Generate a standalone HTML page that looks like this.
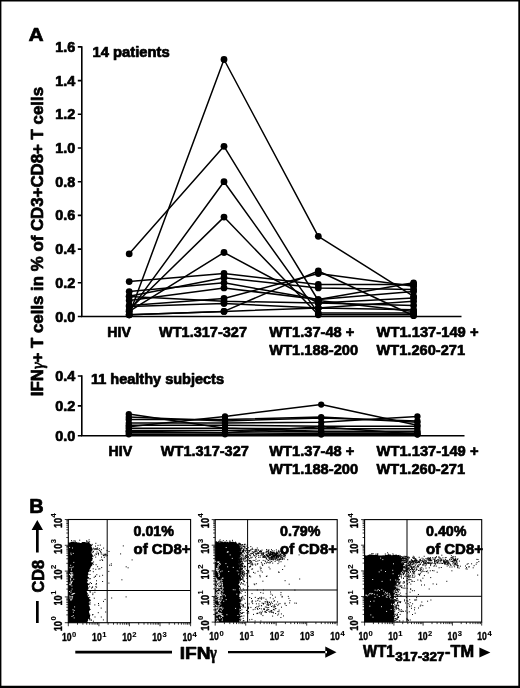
<!DOCTYPE html>
<html lang="en"><head><meta charset="utf-8"><title>Figure</title>
<style>html,body{margin:0;padding:0;background:#fff}body{width:520px;height:688px;overflow:hidden}text{stroke:#000;stroke-width:.7px;stroke-linejoin:round}.t text{stroke-width:.4px}.t text.s{stroke-width:.12px}</style>
</head><body>
<svg width="520" height="688" viewBox="0 0 520 688" style="display:block;font-family:'Liberation Sans', Arial, Helvetica, sans-serif;font-weight:bold" fill="#000">
<rect x="0" y="0" width="520" height="688" fill="#fff"/>
<path d="M0 0H520V688H0Z M1.4 1.4V685.8H518.3V1.4Z" fill="#000" fill-rule="evenodd"/>
<text x="28.6" y="40.6" font-size="19.2" textLength="15.2" lengthAdjust="spacingAndGlyphs">A</text>
<text x="29.3" y="512.6" font-size="20">B</text>
<text transform="translate(43.3 396.2) rotate(-90)" font-size="16.3" textLength="309.2" lengthAdjust="spacingAndGlyphs">IFN<tspan font-weight="normal" font-style="italic" font-family="'Liberation Serif',serif">γ</tspan>+ T cells in % of CD3+CD8+ T cells</text>
<g stroke="#000" stroke-width="1.6" fill="none">
<path d="M81.8 46.199999999999996V316.5H461.5"/>
<path d="M77.8 316.50H81.8M77.8 282.80H81.8M77.8 249.10H81.8M77.8 215.40H81.8M77.8 181.70H81.8M77.8 148.00H81.8M77.8 114.30H81.8M77.8 80.60H81.8M77.8 46.90H81.8"/>
<path d="M81.8 375.3V435.8H464.5"/>
<path d="M77.8 435.80H81.8M77.8 405.90H81.8M77.8 376.00H81.8"/>
</g>
<text x="75.3" y="321.5" font-size="14.2" text-anchor="end" textLength="20" lengthAdjust="spacingAndGlyphs">0.0</text>
<text x="75.3" y="287.8" font-size="14.2" text-anchor="end" textLength="20" lengthAdjust="spacingAndGlyphs">0.2</text>
<text x="75.3" y="254.1" font-size="14.2" text-anchor="end" textLength="20" lengthAdjust="spacingAndGlyphs">0.4</text>
<text x="75.3" y="220.4" font-size="14.2" text-anchor="end" textLength="20" lengthAdjust="spacingAndGlyphs">0.6</text>
<text x="75.3" y="186.7" font-size="14.2" text-anchor="end" textLength="20" lengthAdjust="spacingAndGlyphs">0.8</text>
<text x="75.3" y="153.0" font-size="14.2" text-anchor="end" textLength="20" lengthAdjust="spacingAndGlyphs">1.0</text>
<text x="75.3" y="119.3" font-size="14.2" text-anchor="end" textLength="20" lengthAdjust="spacingAndGlyphs">1.2</text>
<text x="75.3" y="85.6" font-size="14.2" text-anchor="end" textLength="20" lengthAdjust="spacingAndGlyphs">1.4</text>
<text x="75.3" y="51.9" font-size="14.2" text-anchor="end" textLength="20" lengthAdjust="spacingAndGlyphs">1.6</text>
<text x="75.3" y="440.8" font-size="14.2" text-anchor="end" textLength="20" lengthAdjust="spacingAndGlyphs">0.0</text>
<text x="75.3" y="410.9" font-size="14.2" text-anchor="end" textLength="20" lengthAdjust="spacingAndGlyphs">0.2</text>
<text x="75.3" y="381.0" font-size="14.2" text-anchor="end" textLength="20" lengthAdjust="spacingAndGlyphs">0.4</text>
<text x="92.6" y="57.0" font-size="14" textLength="77" lengthAdjust="spacingAndGlyphs">14 patients</text>
<text x="91" y="383.6" font-size="14" textLength="133" lengthAdjust="spacingAndGlyphs">11 healthy subjects</text>
<g stroke="#000" stroke-width="1.5" fill="none" stroke-linejoin="round">
<polyline points="129.2,314.8 224.0,59.5 318.3,236.3 413.6,296.3"/>
<polyline points="129.2,253.8 224.0,146.3 318.3,300.5 413.6,311.4"/>
<polyline points="129.2,311.4 224.0,181.7 318.3,313.1 413.6,313.1"/>
<polyline points="129.2,309.8 224.0,217.1 318.3,314.8 413.6,314.8"/>
<polyline points="129.2,311.4 224.0,252.5 318.3,303.0 413.6,305.5"/>
<polyline points="129.2,281.6 224.0,273.5 318.3,284.5 413.6,284.5"/>
<polyline points="129.2,296.3 224.0,277.7 318.3,287.9 413.6,289.5"/>
<polyline points="129.2,291.6 224.0,282.8 318.3,299.6 413.6,282.8"/>
<polyline points="129.2,314.8 224.0,311.4 318.3,271.0 413.6,315.7"/>
<polyline points="129.2,305.5 224.0,298.5 318.3,273.5 413.6,286.2"/>
<polyline points="129.2,306.4 224.0,303.5 318.3,308.1 413.6,301.3"/>
<polyline points="129.2,300.5 224.0,287.9 318.3,299.6 413.6,291.6"/>
<polyline points="129.2,314.8 224.0,311.4 318.3,308.1 413.6,309.8"/>
<polyline points="129.2,296.6 224.0,301.3 318.3,303.0 413.6,298.0"/>
<polyline points="128.8,414.1 225.0,428.3 321.2,431.3 417.4,431.3"/>
<polyline points="128.8,426.8 225.0,416.4 321.2,404.6 417.4,425.3"/>
<polyline points="128.8,419.4 225.0,419.4 321.2,417.1 417.4,422.3"/>
<polyline points="128.8,423.1 225.0,423.1 321.2,422.3 417.4,416.4"/>
<polyline points="128.8,425.3 225.0,425.3 321.2,426.2 417.4,426.2"/>
<polyline points="128.8,428.3 225.0,428.3 321.2,428.8 417.4,428.8"/>
<polyline points="128.8,430.6 225.0,430.6 321.2,432.1 417.4,432.1"/>
<polyline points="128.8,432.8 225.0,432.8 321.2,433.6 417.4,433.6"/>
<polyline points="128.8,434.3 225.0,434.3 321.2,434.6 417.4,434.6"/>
<polyline points="128.8,417.1 225.0,420.9 321.2,417.9 417.4,420.9"/>
<polyline points="128.8,431.3 225.0,432.8 321.2,426.8 417.4,434.3"/>
</g>
<circle cx="129.2" cy="314.8" r="3.4"/>
<circle cx="224.0" cy="59.5" r="3.4"/>
<circle cx="318.3" cy="236.3" r="3.4"/>
<circle cx="413.6" cy="296.3" r="3.4"/>
<circle cx="129.2" cy="253.8" r="3.4"/>
<circle cx="224.0" cy="146.3" r="3.4"/>
<circle cx="318.3" cy="300.5" r="3.4"/>
<circle cx="413.6" cy="311.4" r="3.4"/>
<circle cx="129.2" cy="311.4" r="3.4"/>
<circle cx="224.0" cy="181.7" r="3.4"/>
<circle cx="318.3" cy="313.1" r="3.4"/>
<circle cx="413.6" cy="313.1" r="3.4"/>
<circle cx="129.2" cy="309.8" r="3.4"/>
<circle cx="224.0" cy="217.1" r="3.4"/>
<circle cx="318.3" cy="314.8" r="3.4"/>
<circle cx="413.6" cy="314.8" r="3.4"/>
<circle cx="129.2" cy="311.4" r="3.4"/>
<circle cx="224.0" cy="252.5" r="3.4"/>
<circle cx="318.3" cy="303.0" r="3.4"/>
<circle cx="413.6" cy="305.5" r="3.4"/>
<circle cx="129.2" cy="281.6" r="3.4"/>
<circle cx="224.0" cy="273.5" r="3.4"/>
<circle cx="318.3" cy="284.5" r="3.4"/>
<circle cx="413.6" cy="284.5" r="3.4"/>
<circle cx="129.2" cy="296.3" r="3.4"/>
<circle cx="224.0" cy="277.7" r="3.4"/>
<circle cx="318.3" cy="287.9" r="3.4"/>
<circle cx="413.6" cy="289.5" r="3.4"/>
<circle cx="129.2" cy="291.6" r="3.4"/>
<circle cx="224.0" cy="282.8" r="3.4"/>
<circle cx="318.3" cy="299.6" r="3.4"/>
<circle cx="413.6" cy="282.8" r="3.4"/>
<circle cx="129.2" cy="314.8" r="3.4"/>
<circle cx="224.0" cy="311.4" r="3.4"/>
<circle cx="318.3" cy="271.0" r="3.4"/>
<circle cx="413.6" cy="315.7" r="3.4"/>
<circle cx="129.2" cy="305.5" r="3.4"/>
<circle cx="224.0" cy="298.5" r="3.4"/>
<circle cx="318.3" cy="273.5" r="3.4"/>
<circle cx="413.6" cy="286.2" r="3.4"/>
<circle cx="129.2" cy="306.4" r="3.4"/>
<circle cx="224.0" cy="303.5" r="3.4"/>
<circle cx="318.3" cy="308.1" r="3.4"/>
<circle cx="413.6" cy="301.3" r="3.4"/>
<circle cx="129.2" cy="300.5" r="3.4"/>
<circle cx="224.0" cy="287.9" r="3.4"/>
<circle cx="318.3" cy="299.6" r="3.4"/>
<circle cx="413.6" cy="291.6" r="3.4"/>
<circle cx="129.2" cy="314.8" r="3.4"/>
<circle cx="224.0" cy="311.4" r="3.4"/>
<circle cx="318.3" cy="308.1" r="3.4"/>
<circle cx="413.6" cy="309.8" r="3.4"/>
<circle cx="129.2" cy="296.6" r="3.4"/>
<circle cx="224.0" cy="301.3" r="3.4"/>
<circle cx="318.3" cy="303.0" r="3.4"/>
<circle cx="413.6" cy="298.0" r="3.4"/>
<circle cx="128.8" cy="414.1" r="3.15"/>
<circle cx="225.0" cy="428.3" r="3.15"/>
<circle cx="321.2" cy="431.3" r="3.15"/>
<circle cx="417.4" cy="431.3" r="3.15"/>
<circle cx="128.8" cy="426.8" r="3.15"/>
<circle cx="225.0" cy="416.4" r="3.15"/>
<circle cx="321.2" cy="404.6" r="3.15"/>
<circle cx="417.4" cy="425.3" r="3.15"/>
<circle cx="128.8" cy="419.4" r="3.15"/>
<circle cx="225.0" cy="419.4" r="3.15"/>
<circle cx="321.2" cy="417.1" r="3.15"/>
<circle cx="417.4" cy="422.3" r="3.15"/>
<circle cx="128.8" cy="423.1" r="3.15"/>
<circle cx="225.0" cy="423.1" r="3.15"/>
<circle cx="321.2" cy="422.3" r="3.15"/>
<circle cx="417.4" cy="416.4" r="3.15"/>
<circle cx="128.8" cy="425.3" r="3.15"/>
<circle cx="225.0" cy="425.3" r="3.15"/>
<circle cx="321.2" cy="426.2" r="3.15"/>
<circle cx="417.4" cy="426.2" r="3.15"/>
<circle cx="128.8" cy="428.3" r="3.15"/>
<circle cx="225.0" cy="428.3" r="3.15"/>
<circle cx="321.2" cy="428.8" r="3.15"/>
<circle cx="417.4" cy="428.8" r="3.15"/>
<circle cx="128.8" cy="430.6" r="3.15"/>
<circle cx="225.0" cy="430.6" r="3.15"/>
<circle cx="321.2" cy="432.1" r="3.15"/>
<circle cx="417.4" cy="432.1" r="3.15"/>
<circle cx="128.8" cy="432.8" r="3.15"/>
<circle cx="225.0" cy="432.8" r="3.15"/>
<circle cx="321.2" cy="433.6" r="3.15"/>
<circle cx="417.4" cy="433.6" r="3.15"/>
<circle cx="128.8" cy="434.3" r="3.15"/>
<circle cx="225.0" cy="434.3" r="3.15"/>
<circle cx="321.2" cy="434.6" r="3.15"/>
<circle cx="417.4" cy="434.6" r="3.15"/>
<circle cx="128.8" cy="417.1" r="3.15"/>
<circle cx="225.0" cy="420.9" r="3.15"/>
<circle cx="321.2" cy="417.9" r="3.15"/>
<circle cx="417.4" cy="420.9" r="3.15"/>
<circle cx="128.8" cy="431.3" r="3.15"/>
<circle cx="225.0" cy="432.8" r="3.15"/>
<circle cx="321.2" cy="426.8" r="3.15"/>
<circle cx="417.4" cy="434.3" r="3.15"/>
<g font-size="15.2">
<text x="107.3" y="336.8" textLength="23.6" lengthAdjust="spacingAndGlyphs">HIV</text>
<text x="159.0" y="336.8" textLength="88" lengthAdjust="spacingAndGlyphs">WT1.317-327</text>
<text x="269.3" y="336.8" textLength="85" lengthAdjust="spacingAndGlyphs">WT1.37-48 +</text>
<text x="269.3" y="354.6" textLength="88.8" lengthAdjust="spacingAndGlyphs">WT1.188-200</text>
<text x="376.5" y="336.8" textLength="102" lengthAdjust="spacingAndGlyphs">WT1.137-149 +</text>
<text x="376.5" y="354.6" textLength="88.5" lengthAdjust="spacingAndGlyphs">WT1.260-271</text>
</g>
<g font-size="15.2">
<text x="108.5" y="455.8" textLength="23.6" lengthAdjust="spacingAndGlyphs">HIV</text>
<text x="160.8" y="455.8" textLength="88" lengthAdjust="spacingAndGlyphs">WT1.317-327</text>
<text x="269.3" y="455.8" textLength="85" lengthAdjust="spacingAndGlyphs">WT1.37-48 +</text>
<text x="269.3" y="474.3" textLength="88.8" lengthAdjust="spacingAndGlyphs">WT1.188-200</text>
<text x="376.5" y="455.8" textLength="102" lengthAdjust="spacingAndGlyphs">WT1.137-149 +</text>
<text x="376.5" y="474.3" textLength="88.5" lengthAdjust="spacingAndGlyphs">WT1.260-271</text>
</g>
<rect x="68.3" y="519.5" width="122.3" height="103.20000000000005" fill="none" stroke="#000" stroke-width="1.1"/>
<path d="M107.2 519.5V622.7M68.3 590.5H190.6" stroke="#000" stroke-width="1" fill="none"/>
<path d="M68.3 622.7v3.5M68.3 622.7h-3.5M77.5 622.7v2M68.3 614.9h-2M82.9 622.7v2M68.3 610.4h-2M86.7 622.7v2M68.3 607.2h-2M89.7 622.7v2M68.3 604.7h-2M92.1 622.7v2M68.3 602.6h-2M94.1 622.7v2M68.3 600.9h-2M95.9 622.7v2M68.3 599.4h-2M97.5 622.7v2M68.3 598.1h-2M98.9 622.7v3.5M68.3 596.9h-3.5M108.1 622.7v2M68.3 589.1h-2M113.5 622.7v2M68.3 584.6h-2M117.3 622.7v2M68.3 581.4h-2M120.2 622.7v2M68.3 578.9h-2M122.7 622.7v2M68.3 576.8h-2M124.7 622.7v2M68.3 575.1h-2M126.5 622.7v2M68.3 573.6h-2M128.1 622.7v2M68.3 572.3h-2M129.4 622.7v3.5M68.3 571.1h-3.5M138.7 622.7v2M68.3 563.3h-2M144.0 622.7v2M68.3 558.8h-2M147.9 622.7v2M68.3 555.6h-2M150.8 622.7v2M68.3 553.1h-2M153.2 622.7v2M68.3 551.0h-2M155.3 622.7v2M68.3 549.3h-2M157.1 622.7v2M68.3 547.8h-2M158.6 622.7v2M68.3 546.5h-2M160.0 622.7v3.5M68.3 545.3h-3.5M169.2 622.7v2M68.3 537.5h-2M174.6 622.7v2M68.3 533.0h-2M178.4 622.7v2M68.3 529.8h-2M181.4 622.7v2M68.3 527.3h-2M183.8 622.7v2M68.3 525.2h-2M185.9 622.7v2M68.3 523.5h-2M187.6 622.7v2M68.3 522.0h-2M189.2 622.7v2M68.3 520.7h-2M190.6 622.7v3.5M68.3 519.5h-3.5" stroke="#000" stroke-width="0.8" fill="none"/>
<g class="t" font-size="10.9">
<text x="62.0" y="640.6" textLength="9.6" lengthAdjust="spacingAndGlyphs">10</text><text x="72.1" y="636.9" font-size="7.6" class="s">0</text>
<g transform="translate(62.0 624.1) rotate(-90)"><text x="-7.2" y="0" textLength="10.2" lengthAdjust="spacingAndGlyphs">10</text><text x="3.5" y="-5.6" font-size="7.6" class="s">0</text></g>
<text x="92.1" y="640.6" textLength="9.6" lengthAdjust="spacingAndGlyphs">10</text><text x="102.2" y="636.9" font-size="7.6" class="s">1</text>
<g transform="translate(62.0 598.3) rotate(-90)"><text x="-7.2" y="0" textLength="10.2" lengthAdjust="spacingAndGlyphs">10</text><text x="3.5" y="-5.6" font-size="7.6" class="s">1</text></g>
<text x="122.2" y="640.6" textLength="9.6" lengthAdjust="spacingAndGlyphs">10</text><text x="132.3" y="636.9" font-size="7.6" class="s">2</text>
<g transform="translate(62.0 572.5) rotate(-90)"><text x="-7.2" y="0" textLength="10.2" lengthAdjust="spacingAndGlyphs">10</text><text x="3.5" y="-5.6" font-size="7.6" class="s">2</text></g>
<text x="152.3" y="640.6" textLength="9.6" lengthAdjust="spacingAndGlyphs">10</text><text x="162.4" y="636.9" font-size="7.6" class="s">3</text>
<g transform="translate(62.0 546.7) rotate(-90)"><text x="-7.2" y="0" textLength="10.2" lengthAdjust="spacingAndGlyphs">10</text><text x="3.5" y="-5.6" font-size="7.6" class="s">3</text></g>
<text x="182.4" y="640.6" textLength="9.6" lengthAdjust="spacingAndGlyphs">10</text><text x="192.5" y="636.9" font-size="7.6" class="s">4</text>
<g transform="translate(62.0 520.9) rotate(-90)"><text x="-7.2" y="0" textLength="10.2" lengthAdjust="spacingAndGlyphs">10</text><text x="3.5" y="-5.6" font-size="7.6" class="s">4</text></g>
</g>
<path d="M68.3 542.4L68.3 542.2L69.3 542.6L70.1 542.5L71.3 541.8L72.6 541.8L73.8 541.8L74.7 542.3L76.3 541.9L77.4 542.6L79.1 542.5L80.3 543.1L81.2 542.9L82.3 541.9L83.2 542.1L84.8 542.0L86.2 542.6L87.3 542.5L88.2 541.8L89.4 542.4L89.8 543.5L91.5 544.7L92.5 545.0L91.3 546.3L91.9 547.5L92.4 549.0L92.9 550.0L91.7 550.8L91.1 552.2L90.8 553.3L92.4 554.6L92.7 555.8L92.3 556.8L92.0 558.1L92.6 559.2L91.8 560.7L90.9 562.0L92.1 563.3L92.5 564.9L91.6 565.9L90.7 567.0L90.5 568.1L89.8 568.9L89.3 570.3L89.4 571.2L87.9 572.7L88.4 573.8L88.9 574.0L87.7 575.5L87.8 576.6L89.1 578.0L87.3 578.9L87.4 579.8L88.2 580.9L86.8 581.9L87.6 582.9L88.8 584.2L87.8 585.5L88.1 586.7L88.6 587.5L88.5 588.9L87.4 590.3L86.7 591.0L87.0 592.3L87.5 593.0L88.0 593.9L87.4 594.6L87.8 595.5L87.9 596.5L89.6 598.0L89.0 598.8L89.3 599.0L90.4 599.8L89.5 601.4L88.7 602.5L89.3 603.3L90.3 604.3L88.6 605.1L89.7 606.7L89.7 607.5L89.7 608.2L90.4 609.8L89.1 611.1L88.9 612.2L89.7 613.6L89.2 614.0L90.1 614.9L90.0 616.5L89.7 617.9L88.1 619.3L88.2 620.4L87.4 621.2L87.8 622.1L88.2 622.7L68.3 622.7Z" fill="#000"/>
<path d="M89.8 618.6h0M101.3 617.0h0M89.4 618.4h0M91.8 560.4h0M91.7 558.5h0M94.9 592.3h0M90.0 609.4h0M92.8 594.6h0M94.2 549.7h0M92.6 614.9h0M90.0 602.3h0M95.7 557.1h0M95.8 569.3h0M89.5 619.8h0M96.8 574.7h0M88.6 600.3h0M91.5 553.0h0M92.9 614.5h0M96.3 554.5h0M91.2 620.4h0M90.4 570.7h0M91.0 553.3h0M91.1 619.7h0M96.1 584.6h0M94.2 577.3h0M88.7 608.3h0M92.0 562.9h0M93.6 562.0h0M92.6 563.5h0M98.2 553.4h0M89.8 570.9h0M95.0 589.1h0M95.5 576.2h0M90.3 582.6h0M88.1 584.4h0M88.6 577.8h0M95.8 543.3h0M92.9 556.6h0M90.4 600.3h0M93.2 568.8h0M92.6 586.9h0M93.5 551.4h0M92.0 562.6h0M90.1 604.0h0M92.3 587.4h0M89.8 615.1h0M90.1 591.4h0M91.5 583.5h0M90.3 578.7h0M96.5 580.8h0M94.3 598.2h0M88.9 617.4h0M96.6 587.2h0M88.4 609.4h0M92.8 552.6h0M91.8 548.7h0M94.3 548.8h0M94.8 604.9h0M94.8 555.2h0M88.5 595.2h0M98.3 612.7h0M100.1 560.3h0M90.0 574.5h0M93.4 621.2h0M92.7 555.8h0M89.2 583.7h0M92.2 558.5h0M88.1 600.0h0M89.7 586.8h0M92.2 544.4h0M90.2 592.3h0M103.6 548.1h0M98.7 605.3h0M91.9 551.3h0M95.5 546.1h0M91.4 564.4h0M95.3 576.4h0M88.9 607.7h0M98.5 554.8h0M91.6 588.1h0M91.2 550.1h0M89.7 597.4h0M99.4 548.7h0M92.9 593.1h0M96.8 549.6h0M97.0 548.3h0M89.2 578.8h0M95.8 586.7h0M91.4 564.2h0M88.8 584.6h0M96.1 553.4h0M96.8 548.9h0M98.8 569.0h0M98.5 603.5h0M96.4 583.5h0M93.3 571.7h0M93.3 564.3h0M103.5 601.4h0M102.0 559.6h0M95.0 617.0h0M101.2 608.1h0M108.9 583.1h0M102.6 575.3h0M111.7 598.0h0M108.8 571.4h0M105.1 599.4h0M99.6 576.2h0M95.5 549.2h0M107.1 550.4h0M96.1 564.7h0M109.0 551.5h0M105.7 612.0h0M97.6 566.7h0M101.7 567.6h0M101.5 557.1h0M111.3 565.3h0M103.4 619.9h0M111.3 563.8h0M99.8 568.8h0M100.3 545.1h0M102.6 581.5h0M102.6 560.5h0M98.0 545.4h0M100.6 551.9h0M93.4 548.2h0M98.5 553.6h0M101.4 549.7h0M105.1 554.3h0M99.4 550.4h0M103.9 555.6h0M107.3 555.5h0M104.6 555.0h0M98.5 553.2h0M106.2 554.3h0M105.6 555.0h0M98.0 549.5h0M101.3 554.0h0M100.4 551.3h0M103.4 555.5h0M105.1 554.2h0M101.2 552.7h0M104.3 557.3h0M97.6 548.0h0M106.1 555.9h0M97.1 551.9h0M103.1 554.3h0M95.8 548.6h0M128.1 567.8h0M123.3 545.9h0M109.6 565.2h0M126.1 596.9h0M126.2 566.8h0M121.9 579.8h0M120.6 553.9h0M132.1 559.9h0M89.6 541.8h0M71.6 540.6h0M86.6 541.9h0M79.7 540.2h0M75.2 541.9h0M75.2 541.0h0M74.0 540.8h0M89.1 539.8h0M86.6 540.8h0M87.9 541.3h0" stroke="#000" stroke-width="1" stroke-linecap="square" fill="none"/>
<path d="M71.5 582.5h0M73.2 566.8h0M72.3 581.3h0M71.3 576.3h0M71.8 576.7h0M71.9 594.6h0M72.8 594.5h0M71.3 570.1h0M72.6 596.7h0M70.7 575.9h0M70.7 600.0h0M71.9 586.0h0M70.7 575.4h0M72.0 567.6h0M72.7 575.7h0M72.3 597.8h0M71.3 583.4h0M72.0 572.5h0M69.7 596.1h0M72.9 593.6h0M69.9 598.0h0M69.8 584.7h0M71.2 590.9h0M71.0 581.3h0M71.3 575.7h0M70.0 567.7h0M71.7 582.1h0M71.1 577.7h0M70.9 599.2h0M72.7 574.8h0M70.9 584.9h0M70.7 579.4h0M71.6 573.1h0M71.8 596.8h0M70.7 596.8h0M71.3 599.9h0M70.8 572.5h0M71.5 569.1h0M71.1 574.1h0M71.6 574.8h0M69.6 591.5h0M70.5 580.0h0M70.4 578.8h0M71.9 577.5h0M72.0 598.9h0M70.2 582.8h0M73.0 609.7h0M70.7 565.3h0M70.9 575.0h0M72.0 616.5h0M74.2 610.5h0M69.6 547.4h0M73.4 612.2h0M72.1 589.0h0M69.5 574.4h0M74.6 606.9h0M74.2 617.9h0M70.9 553.2h0M70.3 584.2h0M73.3 615.6h0M73.5 593.6h0M73.7 579.3h0M72.5 548.0h0M73.8 562.4h0M74.6 593.4h0M71.2 554.6h0M70.9 592.7h0M73.3 553.4h0M69.9 584.3h0M72.7 574.1h0" stroke="#fff" stroke-width="0.9" stroke-linecap="square" fill="none"/>
<g font-size="14.5"><text x="133.5" y="536.4" textLength="40.5" lengthAdjust="spacingAndGlyphs">0.01%</text><text x="133.5" y="553.7" textLength="57" lengthAdjust="spacingAndGlyphs">of CD8+</text></g>
<rect x="215.2" y="519.6" width="122.0" height="102.5" fill="none" stroke="#000" stroke-width="1.1"/>
<path d="M247.6 519.6V622.1M215.2 590H337.2" stroke="#000" stroke-width="1" fill="none"/>
<path d="M215.2 622.1v3.5M215.2 622.1h-3.5M224.4 622.1v2M215.2 614.4h-2M229.8 622.1v2M215.2 609.9h-2M233.6 622.1v2M215.2 606.7h-2M236.5 622.1v2M215.2 604.2h-2M238.9 622.1v2M215.2 602.2h-2M241.0 622.1v2M215.2 600.4h-2M242.7 622.1v2M215.2 599.0h-2M244.3 622.1v2M215.2 597.6h-2M245.7 622.1v3.5M215.2 596.5h-3.5M254.9 622.1v2M215.2 588.8h-2M260.3 622.1v2M215.2 584.2h-2M264.1 622.1v2M215.2 581.0h-2M267.0 622.1v2M215.2 578.6h-2M269.4 622.1v2M215.2 576.5h-2M271.5 622.1v2M215.2 574.8h-2M273.2 622.1v2M215.2 573.3h-2M274.8 622.1v2M215.2 572.0h-2M276.2 622.1v3.5M215.2 570.9h-3.5M285.4 622.1v2M215.2 563.1h-2M290.8 622.1v2M215.2 558.6h-2M294.6 622.1v2M215.2 555.4h-2M297.5 622.1v2M215.2 552.9h-2M299.9 622.1v2M215.2 550.9h-2M302.0 622.1v2M215.2 549.2h-2M303.7 622.1v2M215.2 547.7h-2M305.3 622.1v2M215.2 546.4h-2M306.7 622.1v3.5M215.2 545.2h-3.5M315.9 622.1v2M215.2 537.5h-2M321.3 622.1v2M215.2 533.0h-2M325.1 622.1v2M215.2 529.8h-2M328.0 622.1v2M215.2 527.3h-2M330.4 622.1v2M215.2 525.3h-2M332.5 622.1v2M215.2 523.6h-2M334.2 622.1v2M215.2 522.1h-2M335.8 622.1v2M215.2 520.8h-2M337.2 622.1v3.5M215.2 519.6h-3.5" stroke="#000" stroke-width="0.8" fill="none"/>
<g class="t" font-size="10.9">
<text x="209.3" y="640.0" textLength="9.6" lengthAdjust="spacingAndGlyphs">10</text><text x="219.4" y="636.3" font-size="7.6" class="s">0</text>
<g transform="translate(208.9 623.5) rotate(-90)"><text x="-7.2" y="0" textLength="10.2" lengthAdjust="spacingAndGlyphs">10</text><text x="3.5" y="-5.6" font-size="7.6" class="s">0</text></g>
<text x="239.6" y="640.0" textLength="9.6" lengthAdjust="spacingAndGlyphs">10</text><text x="249.7" y="636.3" font-size="7.6" class="s">1</text>
<g transform="translate(208.9 597.9) rotate(-90)"><text x="-7.2" y="0" textLength="10.2" lengthAdjust="spacingAndGlyphs">10</text><text x="3.5" y="-5.6" font-size="7.6" class="s">1</text></g>
<text x="269.8" y="640.0" textLength="9.6" lengthAdjust="spacingAndGlyphs">10</text><text x="279.9" y="636.3" font-size="7.6" class="s">2</text>
<g transform="translate(208.9 572.2) rotate(-90)"><text x="-7.2" y="0" textLength="10.2" lengthAdjust="spacingAndGlyphs">10</text><text x="3.5" y="-5.6" font-size="7.6" class="s">2</text></g>
<text x="300.1" y="640.0" textLength="9.6" lengthAdjust="spacingAndGlyphs">10</text><text x="310.1" y="636.3" font-size="7.6" class="s">3</text>
<g transform="translate(208.9 546.6) rotate(-90)"><text x="-7.2" y="0" textLength="10.2" lengthAdjust="spacingAndGlyphs">10</text><text x="3.5" y="-5.6" font-size="7.6" class="s">3</text></g>
<text x="330.3" y="640.0" textLength="9.6" lengthAdjust="spacingAndGlyphs">10</text><text x="340.4" y="636.3" font-size="7.6" class="s">4</text>
<g transform="translate(208.9 521.0) rotate(-90)"><text x="-7.2" y="0" textLength="10.2" lengthAdjust="spacingAndGlyphs">10</text><text x="3.5" y="-5.6" font-size="7.6" class="s">4</text></g>
</g>
<path d="M215.2 542L215.2 541.6L216.6 541.3L217.7 541.9L219.5 542.2L221.1 542.0L222.2 541.6L223.9 542.3L225.0 541.3L226.3 542.2L227.6 541.7L229.0 542.6L230.1 541.3L231.2 541.9L232.7 541.6L234.3 542.3L235.6 541.6L236.1 542.0L237.0 543.4L238.9 544.3L240.1 545.3L238.9 546.0L239.4 546.9L240.6 548.2L239.4 549.0L240.7 549.9L238.7 550.8L239.4 551.5L240.5 553.0L240.8 554.4L239.4 555.9L240.7 556.8L238.7 558.1L239.5 559.4L239.4 560.0L238.7 560.9L239.4 561.8L238.8 563.4L239.0 564.9L240.3 566.0L239.4 567.4L239.4 568.1L240.4 569.2L239.1 570.0L238.3 571.6L240.0 572.6L238.2 574.0L238.2 574.7L238.7 575.0L240.1 576.4L238.8 577.4L239.6 578.9L239.8 579.9L238.9 580.9L239.9 581.6L239.7 583.1L238.4 584.6L239.4 585.5L240.5 587.1L239.0 588.2L239.6 589.2L238.9 590.0L240.2 591.4L240.4 592.9L239.4 594.1L239.6 595.1L239.0 596.5L240.5 597.4L239.1 598.3L240.2 599.0L241.2 600.0L241.3 601.5L239.3 602.5L240.3 603.2L240.3 604.6L240.2 605.0L240.7 606.3L241.1 607.6L239.4 608.9L239.8 610.4L239.9 611.6L239.5 613.0L239.5 613.9L240.9 614.7L239.6 615.9L241.1 617.0L239.3 618.2L240.2 619.6L239.0 621.2L239.8 622.1L215.2 622.1Z" fill="#000"/>
<path d="M244.9 573.3h0M239.1 576.8h0M239.4 553.9h0M250.6 550.0h0M247.5 564.6h0M245.4 556.8h0M240.0 559.6h0M248.3 571.8h0M241.9 546.9h0M239.8 565.9h0M239.5 556.6h0M239.9 550.5h0M242.4 565.2h0M239.0 550.5h0M242.6 555.1h0M240.2 549.9h0M244.1 550.5h0M239.2 563.3h0M240.6 546.8h0M242.3 563.4h0M239.6 546.4h0M240.7 568.7h0M240.2 553.5h0M240.2 578.3h0M240.4 564.0h0M245.4 558.4h0M240.4 579.9h0M243.2 550.3h0M239.0 550.5h0M240.8 576.4h0M240.7 573.4h0M241.0 575.7h0M239.0 549.0h0M242.3 563.4h0M239.3 576.7h0M240.5 566.0h0M239.5 561.7h0M241.4 553.5h0M239.4 577.2h0M244.2 561.1h0M239.7 578.8h0M248.2 547.7h0M241.1 579.1h0M247.3 545.0h0M246.5 557.4h0M244.6 566.0h0M243.9 548.9h0M240.7 551.2h0M244.7 574.3h0M239.8 549.8h0M241.3 557.8h0M239.4 557.2h0M243.1 552.1h0M239.1 576.2h0M243.5 563.8h0M244.8 544.4h0M241.9 547.4h0M242.2 563.4h0M240.7 554.3h0M240.8 564.6h0M240.9 567.4h0M239.1 559.2h0M241.2 565.9h0M243.6 551.7h0M241.0 571.9h0M241.1 549.6h0M239.4 547.0h0M239.3 558.9h0M241.3 559.4h0M242.2 544.5h0M243.2 546.0h0M241.3 571.8h0M241.2 545.0h0M248.6 557.0h0M245.2 548.0h0M243.2 579.9h0M239.7 573.2h0M241.2 579.3h0M246.9 578.4h0M244.0 549.1h0M239.2 577.4h0M243.5 556.0h0M246.3 548.9h0M244.4 553.2h0M241.2 548.3h0M239.7 577.0h0M241.3 552.7h0M239.1 554.8h0M239.6 549.7h0M242.6 577.6h0M239.6 576.1h0M239.4 572.0h0M242.2 562.6h0M245.6 556.3h0M241.8 563.5h0M239.4 575.7h0M242.2 579.7h0M244.1 557.6h0M253.9 552.8h0M240.4 564.4h0M240.9 571.3h0M243.4 549.5h0M244.5 544.8h0M242.3 552.4h0M241.8 579.4h0M240.2 567.6h0M239.1 543.1h0M242.1 548.5h0M241.3 559.0h0M239.5 576.1h0M242.4 551.4h0M239.0 543.8h0M239.4 556.1h0M239.8 556.2h0M241.8 564.6h0M242.1 550.6h0M239.5 560.6h0M239.9 577.7h0M239.3 548.5h0M245.6 566.6h0M240.6 571.9h0M239.0 552.8h0M241.6 566.9h0M242.3 556.0h0M247.9 559.4h0M239.9 570.1h0M239.1 576.4h0M240.7 562.7h0M239.2 551.8h0M239.0 571.8h0M248.1 563.4h0M239.7 548.3h0M241.3 565.5h0M244.4 566.7h0M240.2 549.5h0M239.2 554.1h0M243.9 575.9h0M239.0 569.5h0M243.4 574.2h0M243.3 560.2h0M239.8 559.7h0M239.8 546.9h0M240.3 544.4h0M242.8 570.7h0M243.0 574.3h0M241.6 552.8h0M244.0 559.1h0M240.0 562.4h0M249.7 566.8h0M245.8 551.0h0M240.0 543.6h0M243.4 551.7h0M243.4 578.0h0M245.8 555.1h0M239.9 555.2h0M242.2 576.6h0M242.5 568.6h0M241.0 579.2h0M242.8 574.1h0M240.8 574.7h0M241.7 569.8h0M239.8 554.4h0M239.3 566.0h0M239.5 576.7h0M239.4 544.0h0M240.4 577.4h0M239.1 548.2h0M242.8 544.5h0M242.8 566.5h0M239.2 570.3h0M240.4 564.8h0M244.5 573.2h0M239.2 576.0h0M246.9 575.1h0M239.4 577.9h0M239.4 550.6h0M245.0 544.3h0M242.2 573.0h0M242.2 573.5h0M239.3 553.6h0M243.5 546.6h0M240.2 550.6h0M239.1 558.7h0M240.1 552.5h0M240.5 569.5h0M249.6 554.9h0M245.1 561.6h0M239.1 565.9h0M240.8 558.3h0M240.4 571.6h0M241.5 569.1h0M245.3 551.0h0M244.5 546.4h0M239.0 549.3h0M243.6 550.5h0M239.0 579.2h0M241.2 561.2h0M239.7 572.5h0M240.4 561.3h0M240.0 573.8h0M240.1 577.9h0M242.8 550.9h0M239.4 561.4h0M239.3 566.6h0M242.8 572.2h0M242.2 572.1h0M240.6 556.2h0M246.1 557.6h0M246.0 546.2h0M239.7 543.9h0M246.4 552.7h0M240.5 561.5h0M239.9 575.7h0M241.4 560.1h0M243.5 570.9h0M240.4 566.9h0M239.5 555.1h0M242.5 574.2h0M239.6 570.5h0M243.8 559.2h0M239.4 564.4h0M245.9 560.1h0M239.7 551.8h0M242.9 554.2h0M239.5 574.2h0M239.9 548.8h0M241.4 555.1h0M240.3 549.0h0M250.8 550.0h0M239.3 570.0h0M239.3 578.6h0M252.2 557.2h0M243.2 572.4h0M239.7 559.1h0M239.4 566.6h0M240.6 550.6h0M240.6 544.3h0M242.8 572.3h0M242.2 561.5h0M239.5 560.1h0M240.7 565.3h0M246.6 570.4h0M241.7 558.9h0M240.7 570.7h0M243.1 551.5h0M243.8 575.6h0M245.1 568.9h0M242.3 568.1h0M240.2 559.8h0M239.3 566.2h0M243.9 558.5h0M242.2 569.4h0M240.8 552.3h0M242.1 559.8h0M242.6 558.1h0M239.6 577.4h0M243.8 567.2h0M241.2 557.4h0M239.1 579.1h0M239.6 563.1h0M248.0 571.9h0M239.3 562.2h0M241.5 564.3h0M241.3 569.5h0M244.7 566.7h0M240.7 562.3h0M239.8 578.1h0M240.6 568.3h0M239.4 571.2h0M240.4 579.4h0M240.0 545.1h0M239.0 557.8h0M240.7 558.5h0M240.4 568.8h0M239.8 552.8h0M248.0 570.4h0M239.8 562.5h0M240.6 572.7h0M239.4 550.8h0M244.3 571.7h0M241.0 566.5h0M239.8 563.8h0M240.4 578.7h0M244.5 566.6h0M241.0 573.2h0M241.5 553.9h0M244.7 547.6h0M245.1 556.1h0M240.5 552.9h0M240.8 552.4h0M239.0 549.9h0M240.1 569.7h0M240.1 552.1h0M240.8 560.7h0M242.4 566.6h0M247.5 556.4h0M239.2 574.6h0M246.6 573.6h0M239.5 572.0h0M242.2 573.8h0M239.0 543.6h0M242.4 578.2h0M239.3 552.3h0M239.9 548.3h0M240.4 571.7h0M246.5 548.6h0M239.6 572.3h0M242.0 576.0h0M242.5 571.9h0M244.0 576.1h0M239.7 574.0h0M241.4 568.6h0M240.8 570.5h0M241.6 575.7h0M239.9 552.8h0M241.2 548.2h0M241.0 545.2h0M241.2 548.3h0M241.5 561.4h0M239.0 574.9h0M241.0 574.1h0M242.5 563.8h0M240.5 574.1h0M249.3 558.5h0M242.2 545.8h0M239.1 566.5h0M242.7 565.6h0M240.3 577.5h0M241.3 579.3h0M246.3 560.9h0M243.8 581.4h0M241.2 606.3h0M241.4 616.2h0M242.2 599.9h0M240.7 612.4h0M241.6 598.3h0M245.3 603.3h0M245.3 592.3h0M242.1 597.0h0M242.1 591.4h0M243.2 620.9h0M241.2 613.3h0M241.1 593.3h0M243.0 604.6h0M240.1 612.9h0M246.5 610.4h0M240.2 602.9h0M240.0 592.6h0M247.6 588.0h0M243.2 605.6h0M247.2 613.1h0M242.9 605.7h0M243.6 606.3h0M243.4 605.0h0M243.3 588.9h0M244.3 599.2h0M240.6 584.3h0M244.5 581.6h0M243.2 618.4h0M245.2 595.5h0M242.5 613.0h0M241.1 590.8h0M241.2 597.7h0M243.1 598.1h0M240.2 619.2h0M240.1 603.8h0M245.0 585.0h0M247.5 604.2h0M240.0 598.8h0M242.7 596.3h0M251.9 619.4h0M241.6 600.0h0M243.1 584.3h0M240.5 588.9h0M240.0 580.7h0M240.4 608.7h0M240.3 620.6h0M240.4 616.5h0M243.8 580.7h0M244.0 590.2h0M240.2 587.9h0M243.8 612.5h0M243.9 615.9h0M243.0 583.5h0M241.9 609.8h0M240.9 619.2h0M243.8 620.5h0M240.0 580.5h0M245.1 607.3h0M241.1 583.3h0M240.5 610.6h0M242.0 616.2h0M241.4 582.5h0M241.7 604.1h0M240.5 608.4h0M241.4 613.5h0M243.0 607.1h0M241.5 597.6h0M248.7 613.0h0M242.5 613.0h0M274.7 555.3h0M274.9 559.0h0M271.6 556.5h0M268.6 550.5h0M263.7 557.0h0M266.5 554.6h0M278.4 557.2h0M269.5 554.3h0M266.2 558.8h0M266.9 555.5h0M273.3 555.3h0M278.7 551.9h0M267.8 556.0h0M271.9 557.6h0M264.3 557.5h0M267.7 554.8h0M283.6 556.7h0M265.2 557.3h0M270.4 558.0h0M276.6 556.0h0M269.5 555.5h0M260.3 555.8h0M280.5 554.4h0M267.5 556.0h0M277.1 555.5h0M263.3 554.5h0M273.6 556.9h0M264.1 555.8h0M280.2 559.3h0M266.1 552.9h0M272.1 554.2h0M271.1 556.0h0M276.2 554.8h0M268.0 553.4h0M270.8 554.2h0M272.7 563.1h0M278.2 554.7h0M274.9 552.8h0M265.8 557.2h0M279.2 553.9h0M278.5 556.1h0M273.2 560.1h0M272.3 552.5h0M273.6 555.2h0M282.5 550.5h0M279.0 556.0h0M262.9 557.2h0M272.0 557.0h0M273.9 555.9h0M275.1 558.3h0M275.2 557.3h0M268.6 560.3h0M269.1 558.4h0M275.9 554.6h0M274.7 557.2h0M271.9 552.5h0M269.9 558.8h0M270.8 553.5h0M276.7 558.7h0M285.1 557.1h0M272.8 557.2h0M274.0 552.5h0M282.5 559.1h0M267.1 559.4h0M275.8 554.7h0M265.3 556.3h0M272.8 557.9h0M280.3 558.7h0M269.9 554.6h0M280.0 555.6h0M270.4 554.7h0M276.8 557.4h0M277.4 556.3h0M276.5 557.7h0M279.5 559.1h0M273.7 555.7h0M274.4 557.0h0M271.3 559.7h0M268.5 556.5h0M271.1 554.5h0M273.8 559.5h0M268.4 553.8h0M268.6 553.2h0M281.7 552.3h0M274.1 556.5h0M276.0 558.9h0M276.0 554.3h0M272.0 556.7h0M269.9 554.4h0M274.7 554.9h0M283.4 554.8h0M275.9 553.5h0M273.3 556.4h0M271.5 556.3h0M272.7 558.2h0M268.0 556.1h0M279.1 555.1h0M277.1 556.2h0M278.0 563.6h0M271.9 556.4h0M271.9 554.3h0M284.3 559.0h0M276.1 553.8h0M287.7 559.7h0M274.0 554.8h0M275.5 559.8h0M273.1 554.0h0M272.4 550.8h0M277.8 556.1h0M280.0 556.4h0M275.6 556.0h0M264.4 555.8h0M275.1 558.2h0M276.9 553.7h0M273.1 556.4h0M280.3 554.4h0M263.3 554.2h0M271.2 558.9h0M276.6 552.4h0M277.8 559.4h0M276.4 553.2h0M282.1 557.3h0M268.2 560.5h0M274.2 550.9h0M274.6 555.3h0M276.5 556.6h0M268.4 556.6h0M277.5 555.3h0M272.7 553.0h0M272.3 554.3h0M272.7 554.6h0M263.1 556.8h0M269.4 555.0h0M267.8 555.5h0M271.0 559.5h0M263.2 552.7h0M273.2 552.7h0M271.7 561.5h0M274.9 555.7h0M276.4 556.9h0M275.5 555.7h0M271.8 558.4h0M277.9 555.6h0M274.0 553.1h0M268.8 552.0h0M271.8 559.2h0M279.7 555.4h0M271.4 557.4h0M277.5 553.6h0M273.0 557.2h0M276.9 557.5h0M278.6 556.3h0M270.6 552.1h0M269.0 557.7h0M281.8 557.6h0M270.9 551.6h0M278.0 553.2h0M272.1 559.2h0M269.6 554.6h0M276.5 554.2h0M278.1 559.6h0M271.8 559.1h0M267.7 555.9h0M271.5 549.7h0M271.5 557.1h0M271.3 552.6h0M276.7 553.6h0M278.1 557.7h0M275.5 555.0h0M273.0 559.4h0M277.1 560.5h0M283.5 552.0h0M281.4 551.4h0M281.4 559.1h0M256.6 553.8h0M273.1 553.9h0M283.0 558.8h0M270.9 554.2h0M263.3 557.0h0M284.0 554.9h0M271.9 556.7h0M250.8 546.6h0M266.6 549.9h0M256.7 549.6h0M251.9 553.3h0M251.0 554.0h0M262.3 555.2h0M257.5 553.1h0M267.9 555.2h0M279.6 552.2h0M272.0 552.0h0M254.0 552.0h0M267.9 551.0h0M270.5 551.8h0M255.7 553.3h0M254.9 550.1h0M269.4 553.9h0M246.5 548.7h0M255.5 557.3h0M268.3 551.7h0M285.5 555.7h0M257.8 553.3h0M248.7 550.6h0M280.9 554.2h0M261.5 553.8h0M263.6 553.5h0M255.0 551.5h0M284.4 555.3h0M259.5 551.6h0M260.1 551.5h0M280.0 551.6h0M278.8 550.4h0M275.7 554.2h0M276.4 549.9h0M274.3 555.3h0M282.6 559.2h0M246.2 556.1h0M276.6 551.9h0M284.5 553.8h0M268.9 549.8h0M280.9 557.6h0M270.3 552.0h0M264.3 555.8h0M274.9 553.9h0M268.2 556.7h0M261.4 551.2h0M280.0 559.5h0M266.0 552.1h0M258.2 553.7h0M251.8 549.2h0M249.5 550.6h0M282.8 552.9h0M279.5 559.8h0M284.4 556.3h0M282.4 558.1h0M246.4 555.5h0M265.9 554.9h0M282.8 555.8h0M285.9 552.1h0M266.7 549.6h0M261.6 552.9h0M260.3 551.1h0M283.9 554.0h0M273.1 553.2h0M261.0 553.1h0M262.0 550.1h0M281.2 553.8h0M284.6 552.5h0M271.0 554.5h0M285.8 553.7h0M278.6 557.8h0M252.8 549.4h0M279.0 562.0h0M266.5 558.4h0M273.6 558.3h0M278.8 560.8h0M262.8 553.2h0M252.3 551.7h0M266.2 557.1h0M253.5 554.3h0M270.1 557.8h0M260.1 557.3h0M247.7 552.0h0M262.5 554.0h0M273.6 552.2h0M246.2 550.2h0M269.4 559.2h0M272.7 555.5h0M268.1 557.1h0M256.6 550.9h0M285.9 552.8h0M269.0 552.9h0M252.3 553.3h0M276.4 555.7h0M252.8 553.4h0M266.9 555.6h0M278.3 551.4h0M248.5 557.0h0M258.9 553.5h0M274.6 553.5h0M256.7 554.3h0M250.0 555.4h0M260.0 551.2h0M264.0 552.9h0M281.6 555.8h0M269.3 557.0h0M270.8 553.5h0M256.0 559.1h0M280.2 556.8h0M258.6 557.3h0M258.1 550.0h0M270.1 557.3h0M284.0 554.6h0M255.7 549.4h0M254.9 555.6h0M258.4 555.4h0M277.7 552.6h0M255.7 554.1h0M253.5 555.0h0M284.9 554.6h0M250.6 555.9h0M267.4 551.8h0M248.6 554.1h0M250.9 553.6h0M255.8 550.6h0M253.6 552.3h0M247.4 554.1h0M272.6 553.5h0M274.2 555.9h0M249.7 551.7h0M251.1 557.7h0M263.7 556.2h0M252.4 548.2h0M260.1 552.8h0M284.3 552.8h0M254.3 555.9h0M255.1 551.8h0M264.1 556.6h0M256.4 556.2h0M282.0 553.0h0M255.9 551.5h0M270.3 555.5h0M250.9 558.0h0M266.5 551.7h0M276.9 554.2h0M261.4 551.4h0M258.4 550.1h0M261.6 554.9h0M280.0 556.0h0M258.8 552.5h0M268.5 552.9h0M260.5 551.0h0M248.6 552.2h0M258.5 553.3h0M274.7 556.0h0M257.3 548.0h0M277.0 558.3h0M281.3 556.1h0M257.1 551.9h0M247.2 550.3h0M252.6 564.8h0M261.0 570.8h0M250.7 576.9h0M252.6 568.9h0M249.6 561.1h0M278.7 571.9h0M263.2 560.4h0M247.5 561.6h0M249.9 563.2h0M253.2 560.4h0M251.8 569.2h0M249.6 576.5h0M258.0 571.3h0M250.8 565.1h0M262.0 563.9h0M247.0 576.2h0M266.5 563.0h0M247.6 577.3h0M259.2 560.4h0M250.6 561.1h0M267.4 562.1h0M279.0 572.5h0M248.2 570.7h0M253.5 572.4h0M269.9 563.0h0M248.2 586.3h0M254.2 584.0h0M262.3 572.1h0M270.0 568.9h0M254.8 560.5h0M262.6 565.0h0M256.3 583.7h0M248.8 572.9h0M247.6 570.9h0M268.3 562.7h0M257.3 590.0h0M260.2 567.1h0M250.7 560.6h0M252.8 564.8h0M249.9 563.3h0M248.9 571.0h0M261.4 562.4h0M250.6 566.5h0M254.7 584.7h0M252.6 563.2h0M275.1 561.4h0M257.8 563.7h0M269.0 567.2h0M265.6 561.7h0M261.3 568.2h0M255.0 573.1h0M270.1 561.1h0M251.4 564.0h0M250.0 560.6h0M251.3 562.0h0M262.7 565.3h0M248.6 563.5h0M255.2 564.1h0M249.4 560.7h0M247.1 590.0h0M265.0 560.8h0M263.4 590.0h0M257.8 561.0h0M255.7 565.1h0M249.7 567.0h0M247.1 582.7h0M260.4 568.9h0M282.6 569.5h0M250.8 562.5h0M248.9 560.3h0M266.4 576.5h0M251.6 561.8h0M260.2 576.8h0M281.0 561.7h0M267.0 576.0h0M264.6 563.6h0M249.7 575.7h0M252.0 564.1h0M257.4 564.1h0M270.1 562.5h0M247.5 567.5h0M259.9 575.4h0M262.9 581.2h0M284.7 566.1h0M256.0 561.5h0M252.7 603.6h0M278.6 614.0h0M273.4 609.4h0M275.3 608.6h0M265.2 612.3h0M268.7 609.5h0M280.9 617.5h0M266.3 612.5h0M252.1 601.6h0M269.7 602.2h0M255.8 601.2h0M270.3 597.8h0M271.6 612.0h0M248.5 608.6h0M273.2 598.8h0M270.5 603.7h0M271.4 610.6h0M270.5 592.0h0M272.6 616.1h0M255.1 621.0h0M261.9 598.0h0M253.5 614.4h0M271.5 602.1h0M260.7 592.6h0M255.3 597.4h0M267.7 604.3h0M274.7 607.1h0M264.4 609.4h0M280.0 603.6h0M267.4 602.9h0M257.8 600.6h0M261.0 598.4h0M263.6 603.6h0M269.0 611.3h0M285.0 603.2h0M264.5 609.0h0M260.2 612.1h0M272.9 605.9h0M277.6 601.9h0M263.6 603.4h0M263.8 598.0h0M264.9 611.4h0M270.9 611.8h0M270.8 611.0h0M256.4 603.8h0M249.6 619.8h0M286.2 605.5h0M261.4 608.9h0M257.3 613.2h0M288.3 596.4h0M259.3 612.8h0M279.1 610.1h0M268.6 605.3h0M267.3 602.6h0M262.1 603.1h0M280.9 594.8h0M275.4 597.2h0M252.0 593.6h0M257.4 608.5h0M261.6 605.8h0M256.9 606.8h0M250.9 607.4h0M261.4 599.2h0M277.7 615.1h0M260.9 613.9h0M269.7 612.1h0M273.4 607.0h0M261.4 614.0h0M259.2 605.9h0M272.5 595.2h0M272.3 603.4h0M263.6 608.9h0M266.6 607.2h0M259.9 601.3h0M263.2 603.7h0M257.0 613.6h0M282.1 597.1h0M262.3 611.2h0M248.5 611.5h0M266.8 610.1h0M275.6 613.5h0M253.2 609.7h0M267.4 609.8h0M252.3 600.7h0M273.1 612.3h0M282.2 596.4h0M278.6 604.2h0M263.5 604.0h0M272.1 612.3h0M257.8 609.5h0M267.7 601.7h0M274.6 600.7h0M261.4 605.6h0M266.9 601.2h0M261.7 612.6h0M267.4 607.8h0M265.7 611.4h0M277.8 605.3h0M273.9 601.3h0M266.0 599.3h0M260.9 621.0h0M257.7 613.5h0M268.7 607.6h0M248.5 607.3h0M252.0 602.2h0M258.9 603.9h0M283.5 615.9h0M249.1 603.9h0M258.3 606.8h0M249.7 597.5h0M265.2 601.5h0M276.2 604.2h0M268.0 603.2h0M273.5 612.9h0M265.2 603.0h0M271.5 606.5h0M275.2 606.5h0M266.9 610.5h0M258.0 598.7h0M270.4 604.8h0M271.8 610.6h0M269.4 602.5h0M281.0 592.6h0M258.5 598.7h0M285.0 603.9h0M264.0 609.4h0M277.9 611.6h0M265.3 607.0h0M255.6 607.5h0M263.2 593.2h0M268.1 605.3h0M273.6 609.6h0M266.9 604.9h0M281.5 607.2h0M275.9 608.5h0M278.9 611.7h0M255.1 609.2h0M281.4 613.9h0M262.9 615.6h0M274.7 609.9h0M259.6 608.5h0M270.9 594.1h0M261.3 597.3h0M248.6 607.3h0M274.6 606.0h0M251.5 598.5h0M274.4 604.9h0M268.9 604.4h0M267.6 602.2h0M259.6 597.9h0M223.3 540.7h0M218.5 541.8h0M229.4 542.0h0M219.3 541.0h0M232.5 540.3h0M220.1 539.9h0M221.0 541.4h0M220.0 541.5h0M226.6 540.8h0M229.9 540.9h0M294.9 590.1h0M290.0 600.6h0M288.9 598.4h0M296.4 603.2h0M289.6 602.9h0M299.7 579.0h0M289.2 584.2h0M299.1 554.9h0M285.1 580.7h0M294.8 603.1h0" stroke="#000" stroke-width="1" stroke-linecap="square" fill="none"/>
<path d="M218.4 621.0h0M217.4 610.9h0M216.4 579.2h0M216.8 580.6h0M219.4 602.2h0M217.1 618.9h0M218.4 584.5h0M217.1 610.1h0M222.4 585.1h0M216.0 611.8h0M217.5 620.7h0M219.4 605.7h0M218.3 612.8h0M219.1 592.1h0M222.3 582.7h0M221.1 580.8h0M220.4 595.5h0M222.0 580.6h0M219.9 595.8h0M222.4 619.1h0M220.3 587.7h0M217.6 589.4h0M218.9 588.1h0M217.3 611.0h0M220.4 591.0h0M223.0 587.4h0M219.9 584.8h0M222.0 615.8h0M217.7 610.7h0M221.7 590.3h0M218.2 599.1h0M222.2 585.0h0M220.7 604.0h0M219.1 603.2h0M222.2 587.1h0M222.2 593.7h0M221.4 615.6h0M217.1 615.6h0M223.0 590.9h0M216.0 582.9h0M222.8 578.4h0M222.4 584.6h0M221.1 582.2h0M217.0 607.7h0M216.4 592.8h0M222.4 609.2h0M222.2 620.6h0M216.0 588.2h0M221.5 608.0h0M216.1 600.0h0M217.5 596.7h0M216.6 578.9h0M222.9 591.8h0M222.1 583.2h0M219.3 583.9h0M218.9 585.8h0M220.7 584.4h0M221.1 599.8h0M216.6 593.4h0M219.4 618.0h0M218.3 587.4h0M222.8 616.4h0M221.1 589.9h0M217.1 589.5h0M216.3 579.9h0M219.5 595.8h0M219.8 593.8h0M215.9 607.9h0M220.5 601.7h0M219.8 608.0h0M222.9 616.0h0M221.0 595.4h0M218.1 596.2h0M222.8 594.8h0M218.6 595.8h0M216.8 621.4h0M215.8 604.4h0M222.5 589.1h0M220.2 594.4h0M217.5 586.6h0M216.6 614.7h0M221.4 617.5h0M216.2 608.2h0M218.1 606.1h0M219.8 591.7h0M222.8 578.0h0M221.2 615.1h0M219.5 603.8h0M223.0 588.2h0M220.3 610.3h0M218.5 609.0h0M218.6 600.9h0M220.2 607.5h0M218.1 605.4h0M219.7 587.7h0M220.2 589.5h0M222.3 598.6h0M221.0 600.7h0M219.2 587.6h0M216.8 618.3h0M219.6 600.8h0M219.6 613.4h0M217.5 585.5h0M221.7 598.0h0M220.4 614.0h0M222.2 615.7h0M216.1 594.6h0M221.8 613.6h0M216.7 584.7h0M217.6 582.5h0M218.4 612.9h0M219.6 597.7h0M216.4 595.2h0M223.0 608.2h0M219.0 598.8h0M221.5 611.0h0M216.9 607.6h0M218.4 600.7h0M217.5 594.1h0M218.2 594.6h0M215.9 586.7h0M219.9 580.5h0M217.1 609.2h0M217.8 592.1h0M217.5 614.3h0M216.5 605.7h0M222.0 586.8h0M218.8 612.5h0M220.2 594.2h0M216.1 597.3h0M218.4 609.0h0M217.9 595.7h0M220.5 613.3h0M218.3 594.8h0M220.0 618.2h0M217.2 620.3h0M220.9 594.2h0M220.6 592.3h0M216.3 610.9h0M218.5 600.9h0M219.4 617.2h0M221.3 579.1h0M220.1 598.1h0M219.1 614.5h0M218.8 598.6h0M222.2 597.1h0M219.3 600.3h0M221.7 607.2h0M221.1 595.5h0M216.1 607.6h0M218.6 582.2h0M218.7 564.7h0M216.5 568.8h0M220.5 564.1h0M219.5 563.5h0M218.5 562.2h0M217.0 587.2h0M218.2 562.2h0M217.2 587.6h0M217.1 599.9h0M219.3 592.7h0M219.0 573.4h0M218.0 580.7h0M222.1 571.0h0M218.6 570.5h0M218.1 594.4h0M219.3 582.2h0M217.3 562.0h0M218.4 572.2h0M219.9 594.3h0M216.9 570.3h0M218.6 581.5h0M218.9 575.0h0M217.1 583.4h0M218.8 574.6h0M218.8 596.8h0M217.7 582.2h0M219.5 581.3h0M218.8 576.4h0M217.5 570.9h0M218.1 591.8h0M218.0 592.1h0M220.3 583.7h0M215.8 577.8h0M219.3 595.1h0M219.7 585.6h0M219.0 562.0h0M218.8 583.9h0M218.1 567.2h0M219.9 592.0h0M217.8 579.9h0M217.7 571.8h0M216.9 568.4h0M218.9 596.7h0M217.9 568.3h0M218.9 591.4h0M218.8 598.0h0M217.0 570.3h0M219.4 596.2h0M218.2 562.3h0M217.9 587.8h0M220.7 571.7h0M219.1 569.3h0M217.6 582.4h0M218.0 566.2h0M219.4 593.7h0M217.9 566.1h0M219.5 575.7h0M215.3 561.3h0M217.2 568.9h0M228.0 552.0h0M226.2 599.6h0M225.5 595.9h0M218.5 607.1h0M218.7 614.2h0M237.9 615.5h0M227.6 566.8h0M223.7 601.3h0M226.9 614.7h0M218.0 581.4h0M235.0 589.8h0M227.9 551.6h0M219.1 565.3h0M235.6 608.4h0M221.0 614.3h0M216.7 589.9h0M237.3 570.8h0M236.8 594.2h0M217.1 570.0h0M225.9 563.6h0M232.3 558.4h0M233.3 567.4h0M217.5 586.9h0M218.1 586.4h0M233.3 589.7h0M226.2 547.5h0M227.3 552.3h0M230.2 554.9h0M228.7 571.5h0M224.2 594.7h0" stroke="#fff" stroke-width="0.9" stroke-linecap="square" fill="none"/>
<g font-size="14.5"><text x="280" y="536.4" textLength="40.5" lengthAdjust="spacingAndGlyphs">0.79%</text><text x="280" y="553.7" textLength="57" lengthAdjust="spacingAndGlyphs">of CD8+</text></g>
<rect x="364.6" y="519.6" width="117.09999999999997" height="102.5" fill="none" stroke="#000" stroke-width="1.1"/>
<path d="M407 519.6V622.1M364.6 596.3H481.7" stroke="#000" stroke-width="1" fill="none"/>
<path d="M364.6 622.1v3.5M364.6 622.1h-3.5M373.4 622.1v2M364.6 614.4h-2M378.6 622.1v2M364.6 609.9h-2M382.2 622.1v2M364.6 606.7h-2M385.1 622.1v2M364.6 604.2h-2M387.4 622.1v2M364.6 602.2h-2M389.3 622.1v2M364.6 600.4h-2M391.0 622.1v2M364.6 599.0h-2M392.5 622.1v2M364.6 597.6h-2M393.9 622.1v3.5M364.6 596.5h-3.5M402.7 622.1v2M364.6 588.8h-2M407.8 622.1v2M364.6 584.2h-2M411.5 622.1v2M364.6 581.0h-2M414.3 622.1v2M364.6 578.6h-2M416.7 622.1v2M364.6 576.5h-2M418.6 622.1v2M364.6 574.8h-2M420.3 622.1v2M364.6 573.3h-2M421.8 622.1v2M364.6 572.0h-2M423.1 622.1v3.5M364.6 570.9h-3.5M432.0 622.1v2M364.6 563.1h-2M437.1 622.1v2M364.6 558.6h-2M440.8 622.1v2M364.6 555.4h-2M443.6 622.1v2M364.6 552.9h-2M445.9 622.1v2M364.6 550.9h-2M447.9 622.1v2M364.6 549.2h-2M449.6 622.1v2M364.6 547.7h-2M451.1 622.1v2M364.6 546.4h-2M452.4 622.1v3.5M364.6 545.2h-3.5M461.2 622.1v2M364.6 537.5h-2M466.4 622.1v2M364.6 533.0h-2M470.1 622.1v2M364.6 529.8h-2M472.9 622.1v2M364.6 527.3h-2M475.2 622.1v2M364.6 525.3h-2M477.2 622.1v2M364.6 523.6h-2M478.9 622.1v2M364.6 522.1h-2M480.4 622.1v2M364.6 520.8h-2M481.7 622.1v3.5M364.6 519.6h-3.5" stroke="#000" stroke-width="0.8" fill="none"/>
<g class="t" font-size="10.9">
<text x="358.5" y="640.0" textLength="9.6" lengthAdjust="spacingAndGlyphs">10</text><text x="368.6" y="636.3" font-size="7.6" class="s">0</text>
<g transform="translate(358.3 623.5) rotate(-90)"><text x="-7.2" y="0" textLength="10.2" lengthAdjust="spacingAndGlyphs">10</text><text x="3.5" y="-5.6" font-size="7.6" class="s">0</text></g>
<text x="388.2" y="640.0" textLength="9.6" lengthAdjust="spacingAndGlyphs">10</text><text x="398.3" y="636.3" font-size="7.6" class="s">1</text>
<g transform="translate(358.3 597.9) rotate(-90)"><text x="-7.2" y="0" textLength="10.2" lengthAdjust="spacingAndGlyphs">10</text><text x="3.5" y="-5.6" font-size="7.6" class="s">1</text></g>
<text x="417.9" y="640.0" textLength="9.6" lengthAdjust="spacingAndGlyphs">10</text><text x="428.0" y="636.3" font-size="7.6" class="s">2</text>
<g transform="translate(358.3 572.2) rotate(-90)"><text x="-7.2" y="0" textLength="10.2" lengthAdjust="spacingAndGlyphs">10</text><text x="3.5" y="-5.6" font-size="7.6" class="s">2</text></g>
<text x="447.6" y="640.0" textLength="9.6" lengthAdjust="spacingAndGlyphs">10</text><text x="457.7" y="636.3" font-size="7.6" class="s">3</text>
<g transform="translate(358.3 546.6) rotate(-90)"><text x="-7.2" y="0" textLength="10.2" lengthAdjust="spacingAndGlyphs">10</text><text x="3.5" y="-5.6" font-size="7.6" class="s">3</text></g>
<text x="477.3" y="640.0" textLength="9.6" lengthAdjust="spacingAndGlyphs">10</text><text x="487.4" y="636.3" font-size="7.6" class="s">4</text>
<g transform="translate(358.3 521.0) rotate(-90)"><text x="-7.2" y="0" textLength="10.2" lengthAdjust="spacingAndGlyphs">10</text><text x="3.5" y="-5.6" font-size="7.6" class="s">4</text></g>
</g>
<path d="M364.6 555L364.6 554.5L365.6 555.6L366.7 555.5L368.4 555.0L369.3 554.4L371.0 554.5L372.3 555.1L373.2 555.0L374.2 555.0L375.5 554.8L376.5 554.9L377.5 554.5L378.5 555.5L379.8 555.5L380.6 555.6L381.9 555.4L383.3 555.3L384.3 555.4L385.3 554.7L386.1 554.9L387.4 554.7L389.1 554.4L390.5 554.6L391.9 555.4L393.4 554.4L394.5 555.1L396.2 554.4L397.7 555.3L399.3 554.8L399.4 555.0L400.0 556.5L402.3 558.0L401.6 559.1L403.0 560.0L401.7 561.3L401.6 562.3L401.8 563.2L403.4 564.2L403.0 565.8L402.3 566.9L403.2 568.3L402.6 569.7L402.6 570.0L402.0 571.5L401.4 572.2L399.5 573.3L399.6 574.8L397.6 576.2L398.4 577.6L397.1 579.2L396.7 580.0L395.6 581.2L396.0 582.7L394.6 584.2L394.8 585.7L393.5 587.3L394.6 588.8L394.5 589.8L392.9 590.7L392.7 591.8L393.9 592.9L393.3 594.0L393.5 595.1L393.4 596.5L393.9 598.0L392.3 599.1L394.1 600.4L393.6 601.4L394.2 602.8L393.6 603.5L392.8 604.2L393.6 605.7L393.7 606.0L393.2 607.0L394.5 608.0L393.3 609.3L393.2 610.1L393.6 611.4L394.4 612.7L394.1 613.5L394.4 614.2L393.1 615.1L393.3 616.7L394.4 617.6L394.4 618.8L393.5 619.9L393.5 621.4L393.5 622.1L364.6 622.1Z" fill="#000"/>
<path d="M408.0 563.6h0M404.3 562.5h0M400.4 556.0h0M394.2 593.8h0M394.3 588.4h0M401.8 570.1h0M403.5 578.1h0M399.1 576.6h0M400.3 593.1h0M394.9 582.7h0M397.1 581.0h0M393.6 594.3h0M398.2 582.4h0M403.5 571.0h0M403.1 583.1h0M399.4 575.9h0M392.3 595.0h0M397.2 589.4h0M398.4 578.3h0M401.8 586.0h0M399.0 585.2h0M402.5 557.4h0M412.6 561.5h0M393.1 591.7h0M398.6 579.5h0M403.4 557.9h0M397.5 585.9h0M406.7 567.2h0M404.4 567.6h0M413.5 572.8h0M400.6 582.0h0M396.2 583.1h0M396.5 594.5h0M395.5 583.6h0M404.7 562.5h0M398.8 589.0h0M402.0 569.9h0M404.9 576.6h0M406.5 562.5h0M403.0 562.8h0M403.0 558.1h0M412.9 571.3h0M392.8 594.5h0M411.9 568.4h0M403.0 563.9h0M399.7 573.5h0M403.4 566.4h0M412.5 571.4h0M402.4 566.7h0M394.5 592.4h0M396.7 589.5h0M394.9 587.1h0M406.7 562.1h0M401.4 574.8h0M399.6 582.8h0M403.2 567.0h0M395.0 592.7h0M405.1 567.5h0M406.9 566.4h0M407.7 557.7h0M397.6 578.7h0M393.2 593.6h0M401.8 565.7h0M401.5 577.9h0M396.4 583.1h0M393.7 588.3h0M405.3 568.3h0M395.7 594.7h0M399.7 583.7h0M410.5 571.8h0M395.4 585.7h0M406.3 571.7h0M402.2 570.0h0M395.4 590.9h0M401.2 576.8h0M393.0 592.1h0M401.8 569.5h0M402.4 572.5h0M396.9 590.1h0M397.6 579.1h0M397.0 578.9h0M398.6 589.8h0M393.6 589.5h0M399.6 582.9h0M405.9 576.0h0M397.4 592.0h0M396.9 588.8h0M393.2 591.1h0M398.6 584.2h0M396.2 580.5h0M405.0 558.7h0M394.3 589.0h0M402.5 564.5h0M405.7 559.8h0M397.9 595.0h0M405.6 570.4h0M408.3 558.9h0M401.5 569.0h0M395.5 581.2h0M401.8 567.0h0M402.0 573.8h0M393.4 588.3h0M393.5 589.1h0M405.2 565.0h0M403.0 569.6h0M396.9 578.7h0M394.3 587.7h0M399.0 589.6h0M396.9 577.5h0M393.7 587.1h0M399.6 576.2h0M405.3 558.5h0M397.2 585.0h0M402.8 572.0h0M396.4 579.6h0M412.4 590.7h0M405.0 588.2h0M416.9 569.2h0M404.0 558.9h0M403.8 561.3h0M398.9 583.3h0M400.4 574.2h0M403.5 563.6h0M402.3 567.3h0M396.6 585.4h0M400.1 573.5h0M395.0 584.1h0M404.5 566.6h0M407.3 584.0h0M404.5 585.9h0M396.9 592.8h0M394.3 584.8h0M401.6 564.2h0M397.4 590.5h0M396.0 581.2h0M402.0 570.2h0M412.1 581.3h0M401.7 568.2h0M403.2 563.0h0M398.3 592.0h0M399.2 574.2h0M402.3 560.3h0M395.9 587.1h0M400.9 595.6h0M395.7 587.8h0M393.7 588.9h0M404.6 560.4h0M398.4 576.3h0M401.6 566.1h0M396.8 592.4h0M406.2 593.8h0M404.1 573.5h0M406.7 571.4h0M393.5 589.7h0M401.1 556.5h0M397.3 579.4h0M406.5 556.4h0M395.7 587.4h0M409.3 557.7h0M397.1 577.4h0M405.0 568.9h0M395.0 591.4h0M395.7 581.6h0M410.1 565.7h0M401.1 571.3h0M395.9 579.6h0M403.8 564.0h0M399.2 579.4h0M396.3 584.3h0M406.3 558.7h0M404.0 558.2h0M404.3 572.0h0M395.1 584.5h0M399.0 582.0h0M399.0 574.9h0M395.7 592.4h0M402.7 558.5h0M393.1 595.5h0M406.0 571.7h0M396.8 589.0h0M394.0 585.7h0M415.1 559.8h0M393.5 588.1h0M402.6 557.9h0M393.1 593.2h0M404.1 582.9h0M403.9 581.5h0M402.2 566.5h0M405.5 556.7h0M414.7 560.2h0M394.9 584.4h0M393.9 588.3h0M397.8 576.5h0M401.4 587.5h0M392.3 592.7h0M395.8 590.1h0M395.7 588.9h0M398.3 580.8h0M393.7 588.0h0M404.5 558.2h0M403.4 567.6h0M404.9 556.3h0M407.0 557.0h0M395.5 588.5h0M405.4 560.9h0M403.6 564.3h0M415.2 560.4h0M398.1 577.8h0M406.4 559.8h0M399.7 590.0h0M403.3 560.1h0M406.7 568.1h0M405.0 561.9h0M397.4 595.1h0M400.3 556.3h0M405.9 560.5h0M397.9 580.0h0M400.7 574.2h0M398.9 580.4h0M397.1 592.7h0M402.2 587.9h0M397.6 589.5h0M405.0 557.2h0M394.9 590.0h0M393.4 591.1h0M394.2 593.7h0M395.3 584.3h0M403.1 568.0h0M401.9 569.0h0M413.4 573.7h0M404.4 582.2h0M400.2 586.5h0M397.2 595.8h0M402.6 567.0h0M400.0 572.5h0M409.4 565.2h0M393.7 592.8h0M399.0 586.8h0M398.2 591.6h0M397.3 577.3h0M394.5 589.0h0M396.6 581.1h0M408.9 577.5h0M404.4 562.4h0M397.5 582.0h0M394.0 593.5h0M396.5 592.6h0M392.4 594.7h0M402.8 564.5h0M392.4 592.3h0M406.1 566.4h0M392.8 595.6h0M403.5 573.5h0M399.3 583.6h0M394.8 586.1h0M401.7 566.3h0M395.2 583.6h0M413.6 566.4h0M398.0 581.7h0M398.0 582.2h0M395.6 583.8h0M401.9 558.6h0M401.9 556.6h0M402.1 561.7h0M410.4 575.7h0M395.5 583.5h0M394.4 586.8h0M403.0 560.0h0M404.2 572.4h0M403.8 573.8h0M411.4 559.8h0M407.9 569.7h0M407.3 557.2h0M408.5 565.1h0M397.3 588.1h0M401.6 567.1h0M410.1 563.6h0M405.5 562.3h0M399.4 579.5h0M402.2 563.2h0M416.3 559.9h0M404.5 571.3h0M396.9 578.8h0M401.7 558.6h0M393.4 590.1h0M393.7 594.5h0M394.6 584.9h0M394.5 587.5h0M403.8 570.6h0M402.7 560.5h0M394.6 587.8h0M405.9 571.2h0M402.4 565.0h0M403.3 564.8h0M404.8 570.6h0M405.8 574.9h0M405.6 558.0h0M394.0 589.5h0M403.0 557.2h0M403.9 560.6h0M394.5 584.5h0M404.0 560.7h0M402.6 563.0h0M399.7 573.6h0M403.3 558.7h0M408.4 574.8h0M396.6 578.2h0M406.5 564.9h0M403.5 578.5h0M399.1 594.5h0M412.0 560.4h0M398.1 577.0h0M408.8 562.8h0M401.9 564.5h0M410.8 566.6h0M403.4 574.4h0M403.9 559.0h0M402.3 568.7h0M396.2 582.5h0M416.6 560.8h0M398.9 575.3h0M403.9 556.4h0M397.4 576.6h0M403.3 574.8h0M397.7 577.5h0M401.1 576.0h0M395.3 582.0h0M403.8 588.1h0M400.9 585.6h0M409.4 570.7h0M393.7 600.7h0M403.3 611.5h0M393.4 598.1h0M394.8 596.9h0M393.4 599.7h0M396.8 615.5h0M395.0 620.4h0M392.9 613.7h0M393.9 620.7h0M396.2 608.4h0M395.8 620.7h0M397.1 621.8h0M400.7 601.6h0M427.6 601.2h0M394.1 607.9h0M394.5 621.0h0M394.9 606.6h0M393.0 613.4h0M393.8 605.7h0M392.8 617.5h0M394.2 611.8h0M396.7 607.8h0M393.5 614.5h0M393.3 602.3h0M393.4 621.0h0M395.8 599.6h0M402.7 611.1h0M393.5 597.5h0M396.5 600.4h0M395.3 607.8h0M397.6 619.1h0M406.9 618.4h0M405.6 603.0h0M393.2 606.6h0M393.2 619.8h0M393.7 596.5h0M408.1 603.5h0M395.2 618.6h0M401.4 609.8h0M397.6 617.0h0M393.5 609.3h0M397.5 602.3h0M400.2 611.2h0M407.5 619.4h0M392.9 601.0h0M396.6 619.3h0M397.9 600.7h0M393.9 602.6h0M396.3 605.5h0M393.2 613.6h0M397.2 615.3h0M398.0 608.3h0M392.8 616.8h0M398.1 608.4h0M397.5 614.4h0M406.9 600.7h0M394.0 616.4h0M407.2 607.2h0M395.0 601.4h0M403.1 621.0h0M398.7 602.0h0M397.8 605.4h0M393.4 615.9h0M393.7 601.8h0M392.9 602.9h0M394.8 599.5h0M393.3 606.9h0M405.7 611.1h0M394.9 611.0h0M395.4 614.3h0M395.5 600.6h0M397.3 596.5h0M394.6 600.2h0M399.3 621.0h0M397.4 617.7h0M398.4 612.5h0M393.7 621.1h0M394.4 615.9h0M400.5 602.6h0M401.4 611.6h0M396.8 618.8h0M392.7 601.2h0M398.7 609.9h0M393.1 603.1h0M393.0 596.1h0M392.9 614.1h0M394.1 602.0h0M412.5 614.5h0M392.8 596.5h0M408.5 620.3h0M394.3 599.9h0M394.7 609.6h0M395.9 606.9h0M393.0 602.7h0M393.1 598.2h0M396.8 598.4h0M394.2 614.1h0M398.7 616.6h0M396.0 604.9h0M404.5 600.9h0M393.2 610.6h0M397.8 600.0h0M398.7 606.0h0M399.8 602.0h0M393.2 616.9h0M393.9 611.2h0M400.2 614.4h0M394.0 616.6h0M397.3 598.4h0M393.6 610.7h0M396.5 601.0h0M396.9 598.8h0M394.0 602.3h0M396.4 607.0h0M393.0 614.8h0M394.0 614.8h0M397.4 603.6h0M397.1 614.0h0M393.8 619.4h0M397.7 604.1h0M393.5 602.8h0M399.3 601.9h0M398.5 617.5h0M399.8 620.9h0M394.5 604.1h0M393.1 614.8h0M393.3 611.8h0M395.5 597.3h0M404.6 599.9h0M395.5 618.8h0M393.2 601.1h0M396.3 609.2h0M398.6 605.4h0M399.7 609.8h0M392.7 598.8h0M396.0 606.1h0M397.7 602.6h0M394.4 601.8h0M398.6 608.4h0M394.9 616.0h0M429.2 563.5h0M454.2 564.1h0M411.5 560.1h0M429.7 560.1h0M407.9 560.0h0M457.0 562.3h0M430.2 560.7h0M438.2 561.0h0M445.0 562.1h0M446.1 560.4h0M426.5 561.7h0M410.9 562.0h0M421.0 561.1h0M445.9 562.0h0M409.7 562.1h0M414.5 557.2h0M414.8 560.5h0M415.0 561.5h0M423.6 559.0h0M412.4 561.6h0M412.1 567.2h0M419.5 561.0h0M453.0 556.7h0M430.6 564.2h0M421.0 560.5h0M430.2 560.5h0M412.7 557.8h0M416.1 562.3h0M448.3 561.0h0M423.6 561.3h0M430.4 563.0h0M457.5 563.9h0M422.7 564.8h0M415.0 561.2h0M415.8 559.3h0M427.8 563.2h0M435.9 557.4h0M406.5 561.6h0M452.8 558.3h0M455.5 559.3h0M448.6 565.1h0M419.8 559.9h0M424.3 562.9h0M425.7 562.5h0M453.3 562.3h0M427.3 558.3h0M445.3 557.8h0M418.7 564.8h0M457.5 559.4h0M443.9 561.4h0M419.2 557.3h0M440.1 558.2h0M412.9 564.2h0M434.0 559.2h0M424.0 564.8h0M449.9 563.9h0M413.2 557.6h0M454.8 561.2h0M439.9 558.0h0M408.5 563.2h0M429.7 559.3h0M423.6 562.1h0M451.2 557.5h0M417.1 560.4h0M411.2 562.7h0M423.0 565.2h0M417.8 561.9h0M409.7 564.6h0M416.3 562.8h0M430.0 558.1h0M455.6 563.6h0M422.1 558.2h0M430.5 557.9h0M452.8 561.1h0M451.4 559.4h0M435.8 563.6h0M449.1 563.1h0M433.0 559.0h0M451.8 561.5h0M440.6 561.8h0M424.9 563.3h0M455.9 560.9h0M453.5 560.2h0M407.8 559.3h0M443.3 560.0h0M428.3 563.5h0M448.7 562.8h0M447.0 560.3h0M444.7 562.5h0M447.7 562.2h0M457.6 565.8h0M428.5 558.8h0M454.3 563.7h0M416.5 560.7h0M444.1 563.2h0M415.7 558.8h0M440.8 560.5h0M413.4 570.8h0M435.2 558.6h0M447.4 563.3h0M434.7 565.7h0M445.5 562.7h0M454.0 559.8h0M416.8 563.9h0M452.7 561.7h0M452.8 563.8h0M454.5 560.6h0M435.1 563.2h0M447.8 563.7h0M428.0 559.9h0M420.4 560.3h0M427.9 558.8h0M410.8 561.1h0M406.3 559.4h0M444.9 564.2h0M418.3 561.2h0M415.1 564.0h0M437.4 562.5h0M436.4 560.5h0M443.5 561.3h0M442.9 557.8h0M420.2 563.9h0M408.7 557.0h0M455.1 560.4h0M409.6 561.6h0M447.4 560.8h0M429.9 560.2h0M439.2 563.3h0M445.9 561.3h0M418.7 561.7h0M427.3 562.5h0M438.1 560.9h0M417.4 562.5h0M410.4 562.0h0M432.2 563.1h0M415.5 559.0h0M456.6 561.6h0M431.3 563.6h0M416.3 560.5h0M436.8 562.1h0M409.8 562.4h0M442.5 563.5h0M424.4 560.8h0M428.1 559.3h0M426.4 564.0h0M413.9 563.2h0M406.3 559.1h0M450.2 561.0h0M438.8 559.3h0M453.9 559.4h0M421.5 562.7h0M434.8 559.4h0M455.4 558.2h0M413.6 558.4h0M447.1 564.5h0M436.7 560.4h0M455.1 559.5h0M434.6 560.2h0M412.0 562.1h0M452.7 561.5h0M422.8 560.8h0M430.9 559.2h0M452.5 561.4h0M424.2 556.3h0M439.2 560.3h0M430.8 560.2h0M437.7 563.2h0M446.9 561.2h0M426.2 563.4h0M424.9 563.6h0M420.3 559.9h0M423.3 561.9h0M441.9 560.1h0M407.1 561.6h0M447.9 562.0h0M413.6 561.4h0M419.7 562.1h0M444.1 560.4h0M455.2 556.6h0M434.6 562.1h0M454.1 560.9h0M428.6 562.6h0M450.6 564.7h0M426.1 565.0h0M445.2 563.8h0M437.0 561.9h0M408.9 561.2h0M412.5 564.7h0M438.8 561.8h0M411.8 562.0h0M437.7 562.5h0M441.0 563.3h0M456.9 560.9h0M428.6 560.0h0M418.1 562.4h0M456.7 564.7h0M415.1 561.2h0M415.4 562.5h0M444.3 563.0h0M409.1 558.0h0M407.7 560.7h0M428.9 562.0h0M429.5 558.5h0M451.8 559.7h0M426.6 560.1h0M455.1 564.4h0M435.2 557.5h0M413.4 562.3h0M441.9 563.2h0M406.2 562.5h0M432.8 557.6h0M406.3 562.0h0M440.8 559.1h0M435.6 561.0h0M455.9 559.1h0M455.7 564.0h0M422.4 560.0h0M425.6 560.7h0M447.2 566.0h0M447.0 564.2h0M441.8 555.2h0M422.6 561.4h0M437.8 559.6h0M414.2 562.9h0M420.3 559.3h0M454.0 565.7h0M445.4 563.8h0M413.8 561.5h0M453.2 558.4h0M436.5 556.7h0M410.5 563.6h0M446.4 562.7h0M411.9 562.4h0M451.3 558.0h0M419.3 562.6h0M444.0 560.7h0M431.7 560.5h0M443.5 562.0h0M420.5 564.4h0M425.3 565.9h0M457.9 558.8h0M428.2 557.7h0M445.4 559.6h0M429.7 562.8h0M455.4 559.6h0M430.6 564.0h0M413.5 563.8h0M441.3 567.5h0M434.1 563.5h0M444.5 563.4h0M425.6 563.6h0M419.0 561.5h0M430.9 560.8h0M410.5 564.1h0M407.8 557.6h0M430.2 557.9h0M443.9 562.0h0M423.8 562.6h0M413.1 560.7h0M448.4 562.3h0M432.0 562.3h0M423.5 563.9h0M430.6 565.6h0M446.9 561.3h0M417.5 566.2h0M453.1 556.9h0M446.1 557.5h0M438.8 557.1h0M429.1 560.4h0M411.1 564.7h0M441.5 559.2h0M444.7 561.6h0M448.8 563.7h0M456.0 562.5h0M441.6 560.7h0M434.8 560.2h0M413.1 562.0h0M430.5 559.6h0M425.1 561.4h0M434.8 561.5h0M414.4 558.4h0M452.1 557.5h0M457.0 565.4h0M413.3 556.3h0M426.0 558.5h0M434.5 561.1h0M416.6 561.8h0M412.4 560.6h0M435.3 564.3h0M455.3 560.5h0M455.4 559.4h0M439.0 557.1h0M440.8 560.1h0M424.7 559.8h0M456.4 560.2h0M418.7 562.1h0M406.5 561.2h0M434.8 562.0h0M412.1 563.8h0M449.5 559.7h0M476.9 559.4h0M478.8 561.6h0M450.1 559.0h0M451.4 555.7h0M459.1 568.1h0M466.5 567.6h0M476.2 564.2h0M467.1 564.3h0M455.9 563.5h0M455.2 564.8h0M477.0 562.6h0M457.8 567.1h0M459.4 561.1h0M478.0 559.5h0M452.0 567.0h0M474.1 565.7h0M471.6 563.8h0M457.8 566.0h0M469.2 566.7h0M477.7 575.1h0M468.1 563.6h0M468.9 567.0h0M466.0 568.8h0M460.4 566.2h0M454.1 562.4h0M454.6 566.8h0M473.2 567.8h0M454.6 559.4h0M415.9 570.3h0M415.4 565.2h0M406.7 570.5h0M409.2 579.1h0M409.3 582.4h0M409.3 566.0h0M413.8 569.9h0M410.9 579.5h0M409.0 576.1h0M427.6 571.0h0M414.4 590.7h0M417.1 567.0h0M406.9 565.9h0M410.8 565.9h0M418.6 570.5h0M410.4 572.2h0M439.1 567.8h0M408.0 568.6h0M410.7 589.1h0M420.7 570.6h0M408.2 565.5h0M407.6 583.8h0M418.5 566.7h0M417.8 565.6h0M414.5 569.1h0M407.3 578.6h0M421.1 572.1h0M408.2 576.1h0M412.8 575.8h0M407.2 588.3h0M406.0 567.5h0M412.1 567.2h0M407.1 576.6h0M467.1 569.1h0M409.7 576.1h0M409.0 570.1h0M420.0 570.6h0M408.0 565.7h0M415.4 600.0h0M436.3 566.1h0M414.4 571.7h0M408.6 576.1h0M414.2 581.5h0M410.1 592.2h0M426.2 571.4h0M407.8 571.6h0M407.6 576.6h0M420.3 573.6h0M450.9 565.5h0M421.1 581.1h0M407.4 568.9h0M406.7 573.7h0M421.4 569.3h0M420.3 569.6h0M420.9 568.2h0M451.9 570.8h0M406.0 566.0h0M421.5 585.0h0M418.2 566.7h0M430.7 577.6h0M407.5 569.8h0M419.4 565.0h0M406.5 569.4h0M430.9 600.0h0M410.6 589.0h0M424.5 585.0h0M416.6 599.9h0M418.4 594.5h0M416.0 567.2h0M414.8 571.6h0M410.9 569.7h0M414.6 573.9h0M409.0 568.2h0M414.4 572.0h0M412.5 575.9h0M408.5 572.6h0M409.9 579.7h0M420.6 580.2h0M414.7 567.9h0M437.2 572.2h0M411.6 568.4h0M412.2 577.3h0M426.5 571.6h0M421.8 567.4h0M413.2 569.4h0M410.4 569.5h0M422.9 578.2h0M408.8 567.7h0M424.4 575.6h0M419.5 575.1h0M420.2 568.2h0M406.8 569.5h0M406.4 597.7h0M414.9 576.1h0M446.8 581.3h0M409.1 569.1h0M407.4 580.9h0M422.0 571.7h0M411.5 568.1h0M414.0 577.5h0M433.1 583.9h0M430.3 570.8h0M412.6 568.8h0M449.9 567.0h0M408.1 568.3h0M436.6 584.2h0M410.8 584.1h0M432.6 570.6h0M408.6 579.8h0M411.6 566.3h0M434.0 570.8h0M412.1 574.0h0M409.5 565.2h0M411.9 569.8h0M406.1 569.6h0M423.2 569.0h0M419.7 574.8h0M408.5 565.2h0M419.5 574.4h0M410.2 567.2h0M429.2 589.0h0M409.2 573.8h0M416.3 568.9h0M406.4 568.9h0M418.4 574.2h0M414.6 566.3h0M408.9 568.7h0M412.5 569.5h0M433.9 566.2h0M457.6 567.7h0M429.3 567.8h0M416.6 569.7h0M406.5 580.9h0M426.0 568.1h0M424.0 571.5h0M458.1 565.6h0M411.7 567.6h0M417.8 580.0h0M428.2 572.9h0M411.9 581.1h0M407.3 568.0h0M422.8 570.8h0M465.5 566.0h0M413.4 567.4h0M406.0 566.0h0M407.1 569.6h0M412.8 572.1h0M410.1 577.1h0M414.7 600.0h0M408.2 572.1h0M411.4 605.9h0M421.8 602.0h0M422.8 605.6h0M409.3 611.8h0M412.6 603.8h0M406.7 619.9h0M409.7 599.7h0M414.5 609.8h0M409.2 604.9h0M420.9 605.1h0M410.3 620.0h0M409.6 606.6h0M407.4 612.9h0M414.7 607.7h0M410.2 602.6h0M418.5 608.0h0M420.3 606.0h0M416.6 597.7h0M408.0 620.1h0M415.2 613.2h0M411.5 608.3h0M407.8 601.2h0M388.5 554.2h0M376.0 554.1h0M372.0 554.0h0M373.2 553.8h0M377.8 553.9h0M371.9 553.7h0M387.6 552.8h0M377.6 554.2h0M385.3 554.0h0M392.9 553.9h0" stroke="#000" stroke-width="1" stroke-linecap="square" fill="none"/>
<path d="M371.4 594.0h0M377.2 594.9h0M385.5 592.3h0M375.1 590.2h0M387.3 595.3h0M382.8 595.6h0M366.4 595.3h0M390.2 596.4h0M372.6 593.6h0M387.9 595.2h0M379.3 596.5h0M365.9 595.2h0M387.5 593.0h0M383.7 591.1h0M370.9 593.4h0M389.3 593.8h0M374.4 594.3h0M367.3 595.9h0M368.7 594.9h0M369.7 593.7h0M389.9 595.2h0M389.5 597.1h0M377.2 590.7h0M386.6 593.3h0M387.0 597.4h0M384.9 594.1h0M397.4 592.2h0M386.6 611.4h0M370.5 601.4h0M381.5 606.7h0M381.2 570.2h0M398.5 575.4h0M391.2 609.5h0M374.0 601.1h0M379.2 571.9h0M373.0 617.2h0M378.2 589.6h0M382.8 559.6h0M391.5 604.2h0M395.7 580.1h0M372.7 579.5h0M390.8 598.8h0M379.5 590.5h0M370.8 614.9h0M381.8 589.4h0M392.7 570.3h0M390.4 579.9h0M393.5 563.8h0M375.0 597.4h0M382.1 581.4h0M385.5 571.5h0M380.6 558.1h0M393.1 573.7h0M394.2 592.2h0M386.3 596.8h0M369.8 606.2h0" stroke="#fff" stroke-width="0.9" stroke-linecap="square" fill="none"/>
<g font-size="14.5"><text x="426" y="536.4" textLength="40.5" lengthAdjust="spacingAndGlyphs">0.40%</text><text x="426" y="553.7" textLength="57" lengthAdjust="spacingAndGlyphs">of CD8+</text></g>
<text transform="translate(43.8 592.5) rotate(-90)" font-size="16.5" textLength="32.5" lengthAdjust="spacingAndGlyphs">CD8</text>
<path d="M36 601H38.7V623H36Z M36 529.5H38.7V552.5H36Z M37.3 520L43 530H31.6Z"/>
<path d="M75.3 650.8H172V653.5H75.3Z M228 651.1H327V653.3H228Z M336.5 652.2L325.3 646.6V657.8Z"/>
<text x="179.7" y="658.8" font-size="16.6" textLength="30.8" lengthAdjust="spacingAndGlyphs">IFN</text>
<text x="209.8" y="658.8" font-size="18.5" font-family="'Liberation Serif',serif" stroke-width="0.2" textLength="7" lengthAdjust="spacingAndGlyphs">γ</text>
<text x="363" y="657.3" font-size="16" textLength="31.6" lengthAdjust="spacingAndGlyphs">WT1</text>
<text x="395.2" y="661.2" font-size="12.4" textLength="49.4" lengthAdjust="spacingAndGlyphs">317-327</text>
<text x="445" y="657.3" font-size="16" textLength="29" lengthAdjust="spacingAndGlyphs">-TM</text>
<path d="M490.4 652.6L479.4 647.6V657.6Z"/>
</svg>
</body></html>
